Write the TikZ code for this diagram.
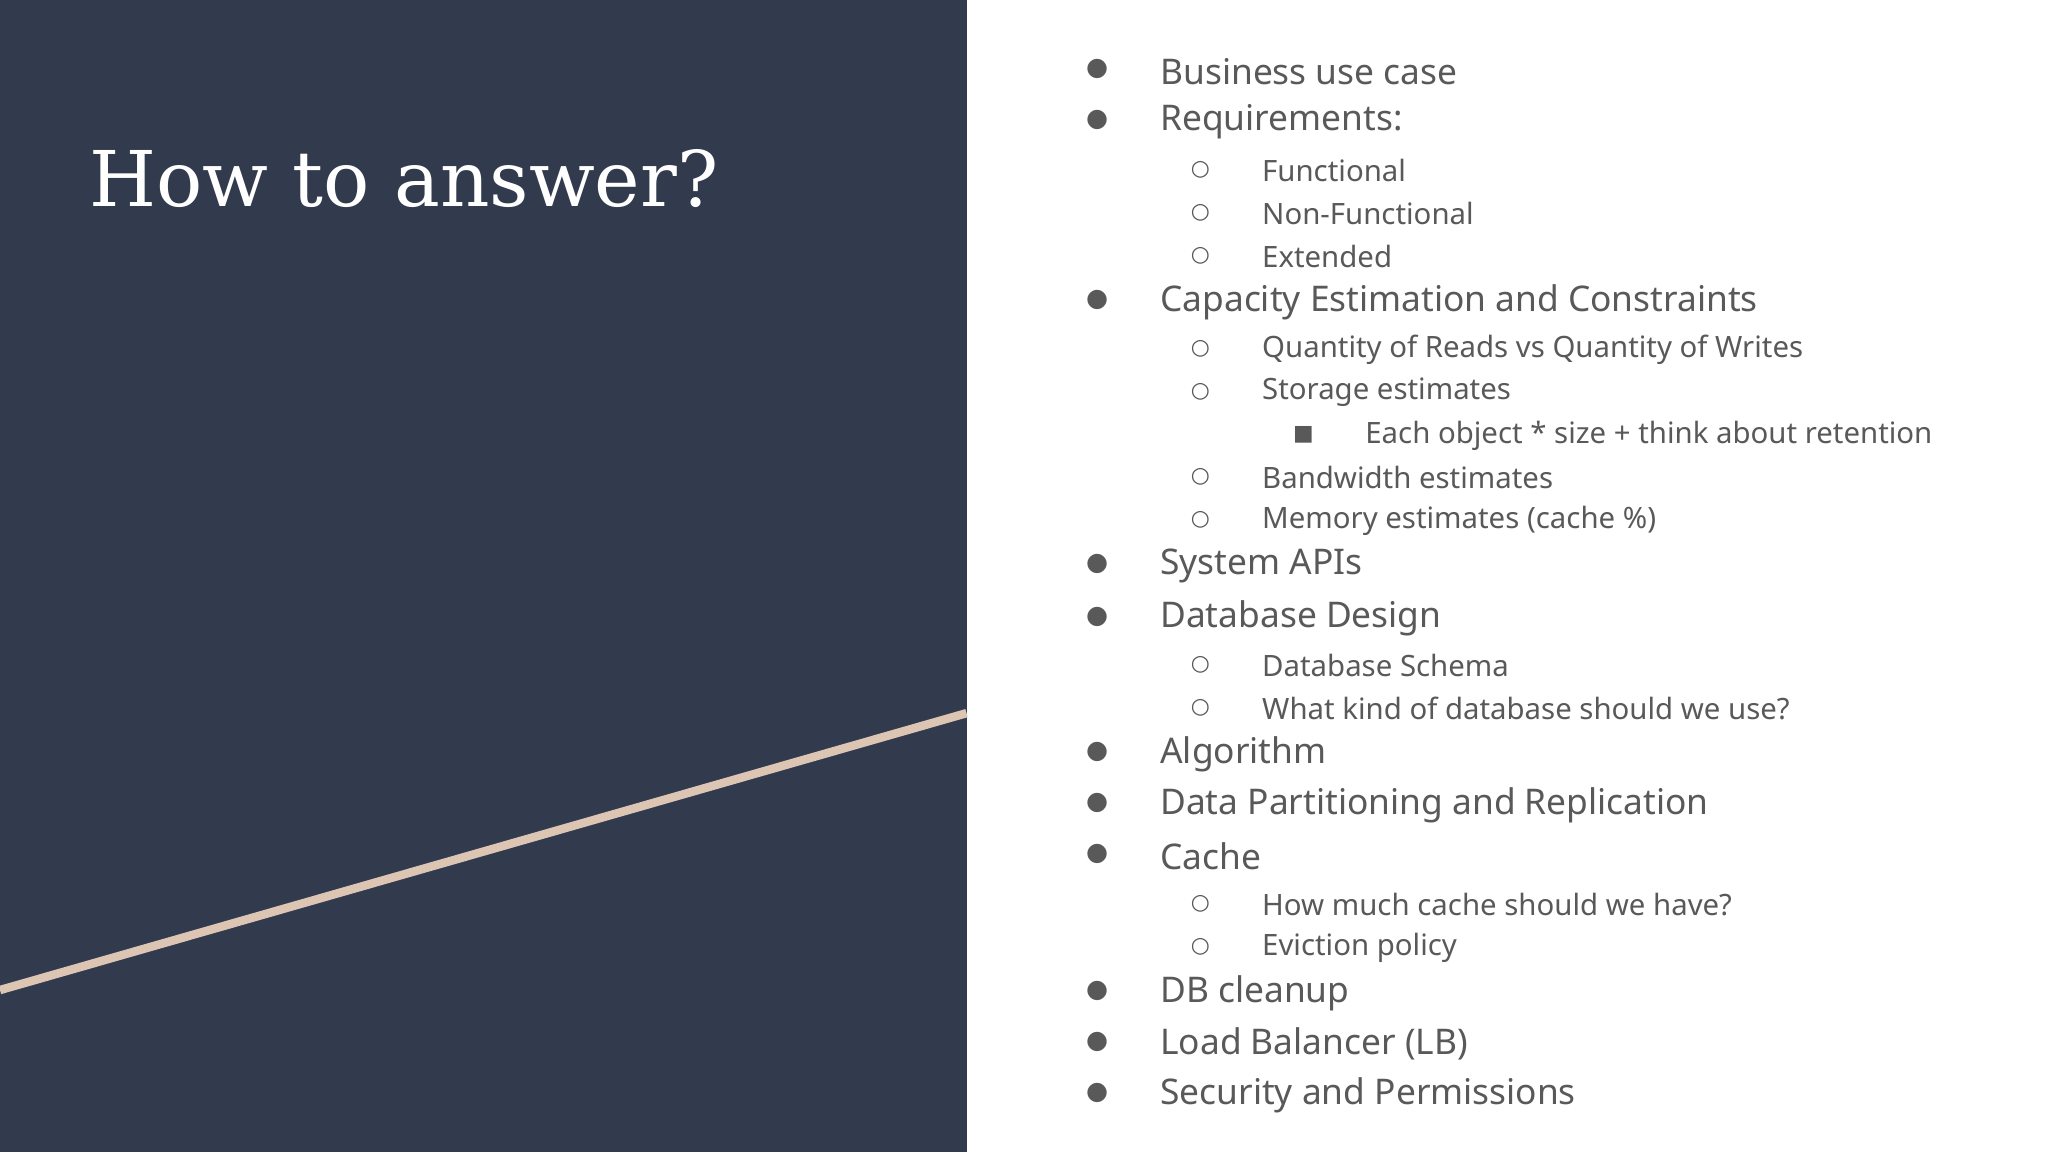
\documentclass[tikz,border=0pt]{standalone}
\usepackage{fontspec}
\setmainfont{Noto Sans}
\newfontfamily\titlefont{DejaVu Serif}
\newfontfamily\symfont{DejaVu Sans}
\definecolor{panel}{HTML}{323A4D}
\definecolor{stripe}{HTML}{DCC5B2}
\definecolor{txt}{HTML}{595959}
\tikzset{
 lone/.style={anchor=west,text=txt,font=\fontsize{15.4}{17}\selectfont,inner sep=0pt},
 ltwo/.style={anchor=west,text=txt,font=\fontsize{12.8}{14}\selectfont,inner sep=0pt},
 bone/.style={anchor=center,text=txt,font=\symfont\fontsize{11}{12}\selectfont,inner sep=0pt},
 btwo/.style={anchor=center,text=txt,font=\symfont\fontsize{9.5}{10}\selectfont,inner sep=0pt}
}
\begin{document}
\begin{tikzpicture}[x=0.02cm,y=-0.02cm]
\useasboundingbox (0,0) rectangle (1568,882);
\fill[white] (0,0) rectangle (1568,882);
\fill[panel] (0,0) rectangle (740,882);
\coordinate (s1) at (0,758);
\coordinate (s2) at (740,546);
\draw[stripe,line width=0.13cm] (s1) -- (s2);
\node[anchor=west,text=white,font=\titlefont\fontsize{33.5}{38}\selectfont,inner sep=0pt] (title) at (68,137) {How to answer?};
\foreach \y/\t [count=\i] in {53/Business use case,92/Requirements:,230/Capacity Estimation and Constraints,432/System APIs,472/Database Design,576/Algorithm,615/Data Partitioning and Replication,654/Cache,759/DB cleanup,798/Load Balancer (LB),837/Security and Permissions}{
 \node[bone] (ba\i) at (840,\y) {●};
 \node[lone] (ta\i) at (888,\y+1.5) {\t};
}
\foreach \y/\t [count=\i] in {129/Functional,162/Non-Functional,195/Extended,266/Quantity of Reads vs Quantity of Writes,299/Storage estimates,364/Bandwidth estimates,397/Memory estimates (cache \%),508/Database Schema,541/What kind of database should we use?,691/How much cache should we have?,724/Eviction policy}{
 \node[btwo] (bb\i) at (919,\y+1) {○};
 \node[ltwo] (tb\i) at (966,\y+1.5) {\t};
}
\node[btwo] (bc1) at (998,333) {■};
\node[ltwo] (tc1) at (1045,333.5) {Each object * size + think about retention};
\end{tikzpicture}
\end{document}
